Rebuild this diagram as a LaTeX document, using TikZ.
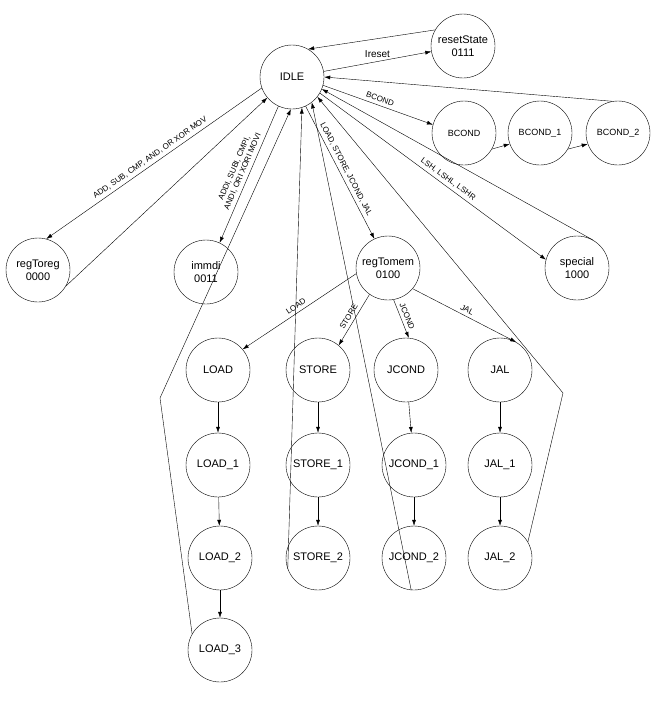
\documentclass[tikz,border=0pt]{standalone}
\usepackage{fontspec}
\setmainfont{Liberation Sans}
\usetikzlibrary{arrows.meta}
\begin{document}
\begin{tikzpicture}[x=1pt,y=-1pt,
  st/.style={circle,draw,thin,minimum size=64pt,inner sep=0pt,align=center,font=\fontsize{11}{13}\selectfont},
  ar/.style={-{Latex[length=6pt,width=4pt]},thin},
  lb/.style={font=\fontsize{8}{9}\selectfont,sloped,above,align=center}]
\useasboundingbox[fill=white] (0,0) rectangle (656,704);
\node[st] (idle) at (292,77) {IDLE};
\node[st] (rst) at (463,46) {resetState\\0111};
\node[st] (b0) at (464,133) {\fontsize{9}{10}\selectfont BCOND};
\node[st] (b1) at (540,133) {\fontsize{9}{10}\selectfont BCOND\_1};
\node[st] (b2) at (618,133) {\fontsize{9}{10}\selectfont BCOND\_2};
\node[st] (rr) at (38,270) {regToreg\\0000};
\node[st] (im) at (206,272) {immdi\\0011};
\node[st] (rm) at (388,268) {regTomem\\0100};
\node[st] (sp) at (577,268) {special\\1000};
\node[st] (l0) at (218,370) {LOAD};
\node[st] (l1) at (218,465) {LOAD\_1};
\node[st] (l2) at (220,558) {LOAD\_2};
\node[st] (l3) at (220,650) {LOAD\_3};
\node[st] (s0) at (318,370) {STORE};
\node[st] (s1) at (318,465) {STORE\_1};
\node[st] (s2) at (318,558) {STORE\_2};
\node[st] (j0) at (406,370) {JCOND};
\node[st] (j1) at (414,465) {JCOND\_1};
\node[st] (j2) at (414,558) {JCOND\_2};
\node[st] (a0) at (500,370) {JAL};
\node[st] (a1) at (500,465) {JAL\_1};
\node[st] (a2) at (500,558) {JAL\_2};
\coordinate (cl) at (160,398);
\coordinate (ca) at (563,393);
% top
\draw[ar] (rst.150) -- (idle.60);
\draw[ar] (idle.10) -- node[above,font=\fontsize{10}{11}\selectfont]{Ireset} (rst.190);
\draw[ar] (b2.100) -- (idle.0);
\draw[ar] (idle.-15) -- node[lb]{BCOND} (b0.165);
\draw[ar] (b0.-30) -- (b1.200);
\draw[ar] (b1.-30) -- (b2.200);
\draw[ar] (idle.-30) -- node[lb,pos=0.55]{LSH, LSHL, LSHR} (sp.165);
\draw[ar] (sp.60) -- (idle.-22);
\draw[ar] (idle.200) -- node[lb]{ADD, SUB, CMP, AND, OR XOR MOV} (rr.75);
\draw[ar] (rr.-30) -- (idle.220);
\draw[ar] (idle.-115) -- node[lb,pos=0.5]{ADDI, SUBI, CMPI,\\ANDI, ORI XORI MOVI} (im.65);
\draw[ar] (idle.-65) -- node[lb]{LOAD, STORE, JCOND, JAL} (rm.115);
% regTomem
\draw[ar] (rm.190) -- node[lb]{LOAD} (l0.40);
\draw[ar] (rm.235) -- node[lb]{STORE} (s0.50);
\draw[ar] (rm.-80) -- node[lb]{JCOND} (j0.85);
\draw[ar] (rm.-40) -- node[lb]{JAL} (a0.60);
% chains
\draw[ar] (l0) -- (l1); \draw[ar] (l1) -- (l2); \draw[ar] (l2) -- (l3);
\draw[ar] (s0) -- (s1); \draw[ar] (s1) -- (s2);
\draw[ar] (j0) -- (j1); \draw[ar] (j1) -- (j2);
\draw[ar] (a0) -- (a1); \draw[ar] (a1) -- (a2);
% returns
\draw[ar] (l3.150) -- (cl) -- (idle.-92);
\draw[ar] (s2.200) -- (idle.-72);
\draw[ar] (j2.-95) -- (idle.-52);
\draw[ar] (a2.30) -- (ca) -- (idle.-38);
\end{tikzpicture}
\end{document}
